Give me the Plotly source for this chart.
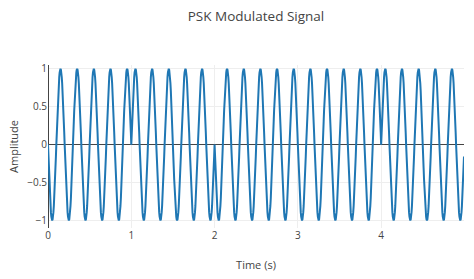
import numpy as np
import plotly.graph_objects as go

# Data
bits = [0, 1, 0, 0, 1]          # one bit per second; phase flips seen at t = 1, 2, 4
bit_duration = 1.0              # seconds
carrier_freq = 5                # Hz (5 cycles per second)
sample_rate = 200               # samples per second
x_tick_vals = [0, 1, 2, 3, 4]
y_tick_vals = [-1, -0.5, 0, 0.5, 1]
y_tick_text = ["−1", "−0.5", "0", "0.5", "1"]

# BPSK: bit 1 -> phase 0, bit 0 -> phase pi
t = np.arange(0, len(bits) * bit_duration, 1.0 / sample_rate)
bit_index = np.minimum((t // bit_duration).astype(int), len(bits) - 1)
phase = np.where(np.array(bits)[bit_index] == 1, 0.0, np.pi)
signal = np.sin(2 * np.pi * carrier_freq * t + phase)

fig = go.Figure(
    go.Scatter(x=t, y=signal, mode="lines",
               line=dict(color="#1f77b4", width=2), showlegend=False)
)

fig.update_layout(
    template="none",
    width=474, height=279,
    margin=dict(l=48, r=10, t=65, b=51),
    paper_bgcolor="white", plot_bgcolor="white",
    font=dict(family="Open Sans, Verdana, sans-serif", color="#444", size=10),
    title=dict(text="PSK Modulated Signal", x=0.5, xref="paper", xanchor="center",
               y=0.94, yref="container", yanchor="middle",
               font=dict(size=13.5, color="#444")),
    xaxis=dict(title=dict(text="Time (s)", font=dict(size=11), standoff=20),
               tickvals=x_tick_vals, range=[0, t[-1]],
               showgrid=True, gridcolor="#eee", zeroline=True,
               zerolinecolor="#444", zerolinewidth=1, showline=False,
               ticks="", tickfont=dict(size=10)),
    yaxis=dict(title=dict(text="Amplitude", font=dict(size=11), standoff=6),
               tickvals=y_tick_vals, ticktext=y_tick_text, range=[-1.1, 1.05],
               showgrid=True, gridcolor="#eee", zeroline=True,
               zerolinecolor="#444", zerolinewidth=1, showline=False,
               ticks="", tickfont=dict(size=10)),
)

fig.write_html("out.html")
